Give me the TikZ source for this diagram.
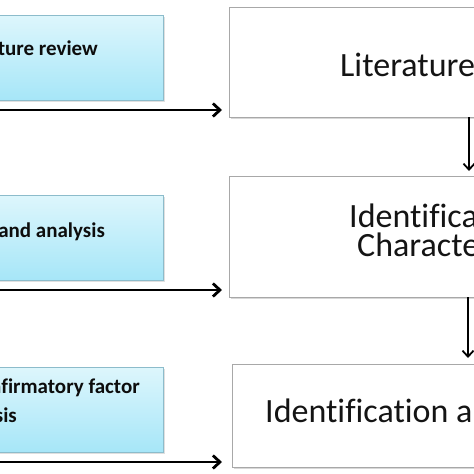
\documentclass[tikz,border=0pt]{standalone}
\usepackage{fontspec}
\setmainfont{Carlito}[Ligatures=NoCommon]
\usetikzlibrary{arrows.meta,shadows}
\definecolor{ltop}{HTML}{DDF6FC}
\definecolor{lbot}{HTML}{A6E6F8}
\definecolor{lbord}{HTML}{8CBCCB}
\definecolor{rbord}{HTML}{A8A8A8}
\begin{document}
\begin{tikzpicture}[x=1pt,y=-1pt,
  leftbox/.style={draw=lbord, line width=0.9pt, top color=ltop, bottom color=lbot,
    drop shadow={shadow xshift=1.2pt, shadow yshift=-1.2pt, opacity=0.25},
    rectangle, anchor=north west, inner sep=0pt},
  rightbox/.style={draw=rbord, line width=0.9pt, fill=white,
    drop shadow={shadow xshift=1.5pt, shadow yshift=-1.5pt, opacity=0.3},
    rectangle, anchor=north west, inner sep=0pt},
  ltext/.style={font=\bfseries\fontsize{21}{25}\selectfont, text=black!95, inner sep=0pt, anchor=base east},
  rtext/.style={font=\fontsize{34}{29}\selectfont, text=black!92, inner sep=0pt, anchor=base west},
  harrow/.style={draw=black, line width=2.8pt, -{Straight Barb[length=7pt,width=13pt]}},
  varrow/.style={draw=black, line width=1.8pt, -{Straight Barb[length=6pt,width=11pt]}}
]
\useasboundingbox (0,0) rectangle (474,474);
\clip (0,0) rectangle (474,474);
\fill[white] (0,0) rectangle (474,474);

% left boxes
\node[leftbox, minimum width=193pt, minimum height=85pt] (l1) at (-30,15) {};
\node[leftbox, minimum width=193pt, minimum height=85pt] (l2) at (-30,195) {};
\node[leftbox, minimum width=193pt, minimum height=85pt] (l3) at (-30,367) {};
\node[ltext] (lt1) at (98,55) {Literature review};
\node[ltext] (lt2) at (105,237) {Data collection and analysis};
\node[ltext] (lt3a) at (140,393) {Confirmatory factor};
\node[ltext] (lt3b) at (17,422) {analysis};

% right boxes
\node[rightbox, minimum width=400pt, minimum height=110pt] (r1) at (229,7) {};
\node[rightbox, minimum width=400pt, minimum height=121pt] (r2) at (229,176) {};
\node[rightbox, minimum width=400pt, minimum height=103pt] (r3) at (232,364) {};
\node[rtext] (rt1) at (340,76) {Literature review};
\node[rtext, align=left] (rt2) at (349,256) {Identification and\\\hspace*{8pt}Characteristics};
\node[rtext] (rt3) at (265,422) {Identification and};

% horizontal arrows
\coordinate (s1) at (-5,110);
\coordinate (s2) at (-5,290);
\coordinate (s3) at (-5,462);
\draw[harrow, shorten >=7pt] (s1) -- (s1 -| r1.west);
\draw[harrow, shorten >=7pt] (s2) -- (s2 -| r2.west);
\draw[harrow, shorten >=10pt] (s3) -- (s3 -| r3.west);

% vertical arrows
\coordinate (v1a) at (469,117);
\coordinate (v1b) at (469,176);
\coordinate (v2a) at (468,297);
\coordinate (v2b) at (468,364);
\draw[varrow, shorten >=5pt] (v1a) -- (v1b);
\draw[varrow, shorten >=6pt] (v2a) -- (v2b);
\end{tikzpicture}
\end{document}
